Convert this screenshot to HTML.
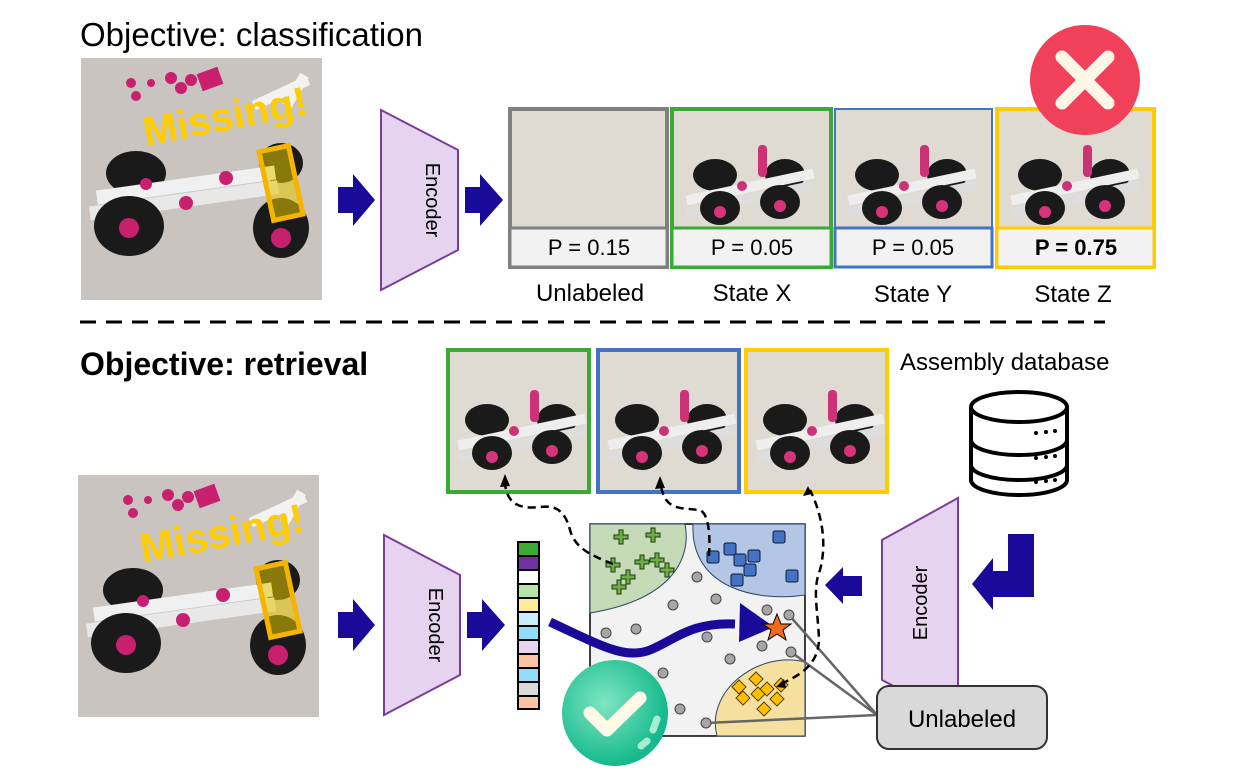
<!DOCTYPE html>
<html><head><meta charset="utf-8"><style>
html,body{margin:0;padding:0;background:#fff;}
svg{display:block;font-family:"Liberation Sans",Arial,sans-serif;}
</style></head><body>
<svg width="1244" height="771" viewBox="0 0 1244 771" xmlns="http://www.w3.org/2000/svg">
<defs>
  <radialGradient id="cg" cx="0.4" cy="0.4" r="0.6"><stop offset="0" stop-color="#7fe6c2"/><stop offset="1" stop-color="#14b98c"/></radialGradient>
  <g id="car">
    <ellipse cx="35" cy="55" rx="22" ry="16" fill="#1a1a1a"/>
    <ellipse cx="105" cy="55" rx="20" ry="16" fill="#1a1a1a"/>
    <rect x="5" y="62" width="130" height="10" fill="#eee" transform="rotate(-12 70 67)"/>
    <rect x="5" y="74" width="130" height="10" fill="#ddd" transform="rotate(-12 70 79)"/>
    <ellipse cx="40" cy="88" rx="20" ry="17" fill="#1a1a1a"/>
    <ellipse cx="100" cy="82" rx="20" ry="17" fill="#1a1a1a"/>
    <circle cx="40" cy="92" r="6" fill="#d6337a"/>
    <circle cx="100" cy="86" r="6" fill="#d6337a"/>
    <rect x="78" y="25" width="9" height="32" rx="4" fill="#cc3377"/>
    <circle cx="62" cy="66" r="5" fill="#cc3377"/>
  </g>
  <g id="bigcar">
    <rect width="241" height="242" fill="#c9c4bf"/>
    <g fill="#c8206f"><circle cx="50" cy="25" r="5"/><circle cx="70" cy="25" r="4"/><circle cx="90" cy="20" r="6"/><circle cx="100" cy="30" r="6"/><circle cx="110" cy="22" r="6"/><rect x="118" y="12" width="22" height="18" transform="rotate(-20 129 21)"/><circle cx="55" cy="38" r="5"/></g>
    <rect x="170" y="30" width="60" height="10" fill="#f2f2f2" transform="rotate(-25 200 35)"/>
    <rect x="210" y="15" width="10" height="35" fill="#f2f2f2" transform="rotate(30 215 32)"/>
    <ellipse cx="55" cy="115" rx="30" ry="22" fill="#1a1a1a"/>
    <ellipse cx="200" cy="105" rx="22" ry="20" fill="#1a1a1a"/>
    <rect x="15" y="120" width="180" height="14" fill="#f0f0f0" transform="rotate(-8 105 127)"/>
    <rect x="8" y="135" width="190" height="14" fill="#e8e8e8" transform="rotate(-8 105 142)"/>
    <ellipse cx="48" cy="168" rx="35" ry="30" fill="#1a1a1a"/>
    <ellipse cx="200" cy="170" rx="28" ry="30" fill="#1a1a1a"/>
    <circle cx="48" cy="170" r="10" fill="#c8206f"/><circle cx="200" cy="180" r="10" fill="#c8206f"/>
    <circle cx="105" cy="145" r="7" fill="#c8206f"/><circle cx="145" cy="120" r="7" fill="#c8206f"/><circle cx="65" cy="126" r="6" fill="#c8206f"/>
    <rect x="185" y="90" width="30" height="70" fill="#e6c800" fill-opacity="0.55" stroke="#f5b400" stroke-width="5" transform="rotate(-12 200 125)"/>
    <text x="65" y="88" font-size="41" font-weight="bold" fill="#ffcc00" transform="rotate(-11 65 88)">Missing!</text>
  </g>
</defs>

<text x="80" y="46" font-size="33" fill="#000">Objective: classification</text>
<use href="#bigcar" x="81" y="58"/>

<polygon points="338,187 353,187 353,174 375,200 353,226 353,213 338,213" fill="#1a0a99"/>
<polygon points="381,110 458,150 458,250 381,290" fill="#e6d3f0" stroke="#7a3e98" stroke-width="2"/>
<text x="0" y="0" font-size="20" transform="translate(426,200) rotate(90)" text-anchor="middle">Encoder</text>
<polygon points="465,187 480,187 480,174 503,200 480,226 480,213 465,213" fill="#1a0a99"/>

<rect x="510" y="109" width="157" height="158" fill="#e0dbd2" stroke="#808080" stroke-width="4"/>
<rect x="510" y="228" width="157" height="39" fill="#f2f2f2" stroke="#808080" stroke-width="3"/>
<rect x="672" y="109" width="159" height="158" fill="#e0dbd2" stroke="#3aaa35" stroke-width="4"/>
<use href="#car" x="680" y="120"/>
<rect x="672" y="228" width="159" height="39" fill="#f2f2f2" stroke="#3aaa35" stroke-width="3"/>
<rect x="835" y="109" width="157" height="158" fill="#e0dbd2" stroke="#4472c4" stroke-width="2"/>
<use href="#car" x="842" y="120"/>
<rect x="835" y="228" width="157" height="39" fill="#f2f2f2" stroke="#4472c4" stroke-width="3"/>
<rect x="997" y="109" width="157" height="158" fill="#e0dbd2" stroke="#ffcc00" stroke-width="4"/>
<use href="#car" x="1005" y="120"/>
<rect x="997" y="228" width="157" height="39" fill="#f2f2f2" stroke="#ffcc00" stroke-width="3"/>
<g font-size="22" text-anchor="middle">
<text x="589" y="255">P = 0.15</text>
<text x="752" y="255">P = 0.05</text>
<text x="913" y="255">P = 0.05</text>
<text x="1076" y="255" font-weight="bold">P = 0.75</text>
</g>
<g font-size="24" text-anchor="middle">
<text x="590" y="301">Unlabeled</text>
<text x="752" y="301">State X</text>
<text x="913" y="302">State Y</text>
<text x="1073" y="302">State Z</text>
</g>
<circle cx="1085" cy="80" r="55" fill="#f0405a"/>
<g stroke="#fff6e6" stroke-width="13" stroke-linecap="round"><line x1="1062" y1="57" x2="1108" y2="103"/><line x1="1108" y1="57" x2="1062" y2="103"/></g>

<line x1="80" y1="322" x2="1105" y2="322" stroke="#000" stroke-width="3" stroke-dasharray="16,10"/>

<text x="80" y="375" font-size="32" font-weight="bold">Objective: retrieval</text>
<text x="900" y="370" font-size="24">Assembly database</text>
<rect x="448" y="350" width="141" height="142" fill="#e0dbd2" stroke="#3aaa35" stroke-width="4"/>
<use href="#car" x="452" y="365"/>
<rect x="598" y="350" width="141" height="142" fill="#e0dbd2" stroke="#4472c4" stroke-width="4"/>
<use href="#car" x="602" y="365"/>
<rect x="746" y="350" width="141" height="142" fill="#e0dbd2" stroke="#ffcc00" stroke-width="4"/>
<use href="#car" x="750" y="365"/>

<g fill="#fff" stroke="#000" stroke-width="4">
<path d="M971,407 L971,480 A48,15 0 0 0 1067,480 L1067,407"/>
<ellipse cx="1019" cy="407" rx="48" ry="15"/>
<path d="M971,440 A48,15 0 0 0 1067,440" fill="none"/>
<path d="M971,465 A48,15 0 0 0 1067,465" fill="none"/>
</g>
<g fill="#000"><circle cx="1036" cy="433" r="2"/><circle cx="1046" cy="432" r="2"/><circle cx="1055" cy="431" r="2"/>
<circle cx="1036" cy="458" r="2"/><circle cx="1046" cy="457" r="2"/><circle cx="1055" cy="456" r="2"/>
<circle cx="1036" cy="482" r="2"/><circle cx="1046" cy="481" r="2"/><circle cx="1055" cy="480" r="2"/></g>

<use href="#bigcar" x="78" y="475"/>
<polygon points="338,612 353,612 353,599 375,625 353,651 353,638 338,638" fill="#1a0a99"/>
<polygon points="384,535 460,575 460,675 384,715" fill="#e6d3f0" stroke="#7a3e98" stroke-width="2"/>
<text font-size="20" transform="translate(429,625) rotate(90)" text-anchor="middle">Encoder</text>
<polygon points="467,612 482,612 482,599 505,625 482,651 482,638 467,638" fill="#1a0a99"/>

<g stroke="#000" stroke-width="2">
<rect x="518" y="542" width="21" height="14" fill="#3aaa35"/>
<rect x="518" y="556" width="21" height="14" fill="#7030a0"/>
<rect x="518" y="570" width="21" height="14" fill="#fff"/>
<rect x="518" y="584" width="21" height="14" fill="#b3e6a6"/>
<rect x="518" y="598" width="21" height="14" fill="#ffeb99"/>
<rect x="518" y="612" width="21" height="14" fill="#c6eefc"/>
<rect x="518" y="626" width="21" height="14" fill="#8fdcfb"/>
<rect x="518" y="640" width="21" height="14" fill="#e6d3f0"/>
<rect x="518" y="654" width="21" height="14" fill="#fcc4a3"/>
<rect x="518" y="668" width="21" height="14" fill="#8fdcfb"/>
<rect x="518" y="682" width="21" height="14" fill="#d9d9d9"/>
<rect x="518" y="696" width="21" height="13" fill="#fcc4a3"/>
</g>

<rect x="590" y="524" width="215" height="212" fill="#f2f2f2" stroke="#000" stroke-width="1.5"/>
<path d="M590,524 L685,524 C692,560 670,600 590,613 Z" fill="#c5dbb7" stroke="#2c4466" stroke-width="1"/>
<path d="M693,524 L805,524 L805,595 C760,602 690,590 693,524 Z" fill="#b3c6e5" stroke="#2c4466" stroke-width="1"/>
<path d="M805,662 C760,650 705,690 717,736 L805,736 Z" fill="#f5e0a0" stroke="#2c4466" stroke-width="1"/>
<g fill="#70ad47" stroke="#1a3a10" stroke-width="1">
<path id="pl" d="M-2,-7 h4 v5 h5 v4 h-5 v5 h-4 v-5 h-5 v-4 h5 z" transform="translate(621,537)"/>
<use href="#pl" x="32" y="-2"/><use href="#pl" x="-8" y="28"/><use href="#pl" x="21" y="25"/><use href="#pl" x="36" y="23"/><use href="#pl" x="46" y="33"/><use href="#pl" x="7" y="40"/><use href="#pl" x="-2" y="50"/>
</g>
<g fill="#4472c4" stroke="#0d1a33" stroke-width="1">
<rect x="707" y="551" width="12" height="12" rx="2"/><rect x="724" y="543" width="12" height="12" rx="2"/><rect x="734" y="554" width="12" height="12" rx="2"/><rect x="748" y="550" width="12" height="12" rx="2"/><rect x="744" y="564" width="12" height="12" rx="2"/><rect x="731" y="574" width="12" height="12" rx="2"/><rect x="773" y="531" width="12" height="12" rx="2"/><rect x="786" y="570" width="12" height="12" rx="2"/>
</g>
<g fill="#ffc000" stroke="#5a4000" stroke-width="1">
<path id="dm" d="M0,-7 L7,0 L0,7 L-7,0 Z" transform="translate(739,687)"/>
<use href="#dm" x="17" y="-8"/><use href="#dm" x="4" y="11"/><use href="#dm" x="19" y="7"/><use href="#dm" x="28" y="2"/><use href="#dm" x="42" y="-2"/><use href="#dm" x="38" y="12"/><use href="#dm" x="25" y="22"/>
</g>
<g stroke="#666" stroke-width="2.5"><line x1="789" y1="615" x2="877" y2="715"/><line x1="791" y1="652" x2="877" y2="715"/><line x1="706" y1="723" x2="877" y2="715"/></g>
<g fill="#a6a6a6" stroke="#444" stroke-width="1">
<circle cx="697" cy="577" r="5"/><circle cx="716" cy="599" r="5"/><circle cx="673" cy="605" r="5"/><circle cx="767" cy="610" r="5"/><circle cx="789" cy="615" r="5"/><circle cx="606" cy="633" r="5"/><circle cx="636" cy="629" r="5"/><circle cx="707" cy="637" r="5"/><circle cx="762" cy="646" r="5"/><circle cx="791" cy="652" r="5"/><circle cx="730" cy="659" r="5"/><circle cx="663" cy="673" r="5"/><circle cx="680" cy="709" r="5"/><circle cx="706" cy="723" r="5"/>
</g>
<path d="M550,622 C600,645 625,660 650,650 C675,640 690,622 735,624" fill="none" stroke="#1a0a99" stroke-width="9"/>
<polygon points="740,603 774,627 739,642" fill="#1a0a99"/>
<polygon points="777,614 781,624 791,624 783,630 786,640 777,634 768,640 771,630 763,624 773,624" fill="#f26b1d" stroke="#000" stroke-width="1"/>

<g fill="none" stroke="#000" stroke-width="2.5" stroke-dasharray="8,5">
<path d="M613,564 C590,555 575,548 570,530 C565,510 555,505 540,507 C515,510 507,500 505,484"/>
<path d="M709,556 C710,540 710,515 700,510 C680,508 665,510 661,486"/>
<path d="M781,684 C800,675 818,665 819,640 C818,610 812,590 820,570 C828,540 820,510 810,490"/>
</g>
<g fill="#000"><polygon points="505,474 500,487 510,486"/><polygon points="660,476 655,489 665,488"/><polygon points="808,486 803,496 812,494"/><polygon points="776,687 784,679 786,688"/></g>

<polygon points="825,585 843,567 843,576 862,576 862,596 843,596 843,604" fill="#1a0a99"/>
<polygon points="882,540 958,498 958,720 882,680" fill="#e6d3f0" stroke="#7a3e98" stroke-width="2"/>
<text font-size="20" transform="translate(927,603) rotate(-90)" text-anchor="middle">Encoder</text>
<polygon points="1008,534 1034,534 1034,597 993,597 993,610 972,584 993,558 993,571 1008,571" fill="#1a0a99"/>

<rect x="877" y="686" width="170" height="63" rx="12" fill="#d9d9d9" stroke="#333" stroke-width="2"/>
<text x="962" y="727" font-size="24" text-anchor="middle">Unlabeled</text>

<circle cx="615" cy="713" r="53" fill="url(#cg)"/>
<polyline points="590,713 607,730 640,698" fill="none" stroke="#fffbe6" stroke-width="13" stroke-linecap="round" stroke-linejoin="round"/>
<line x1="657" y1="719" x2="653" y2="730" stroke="#a8ecd4" stroke-width="7" stroke-linecap="round"/>
<line x1="647" y1="741" x2="641" y2="746" stroke="#a8ecd4" stroke-width="7" stroke-linecap="round"/>
</svg>
</body></html>
